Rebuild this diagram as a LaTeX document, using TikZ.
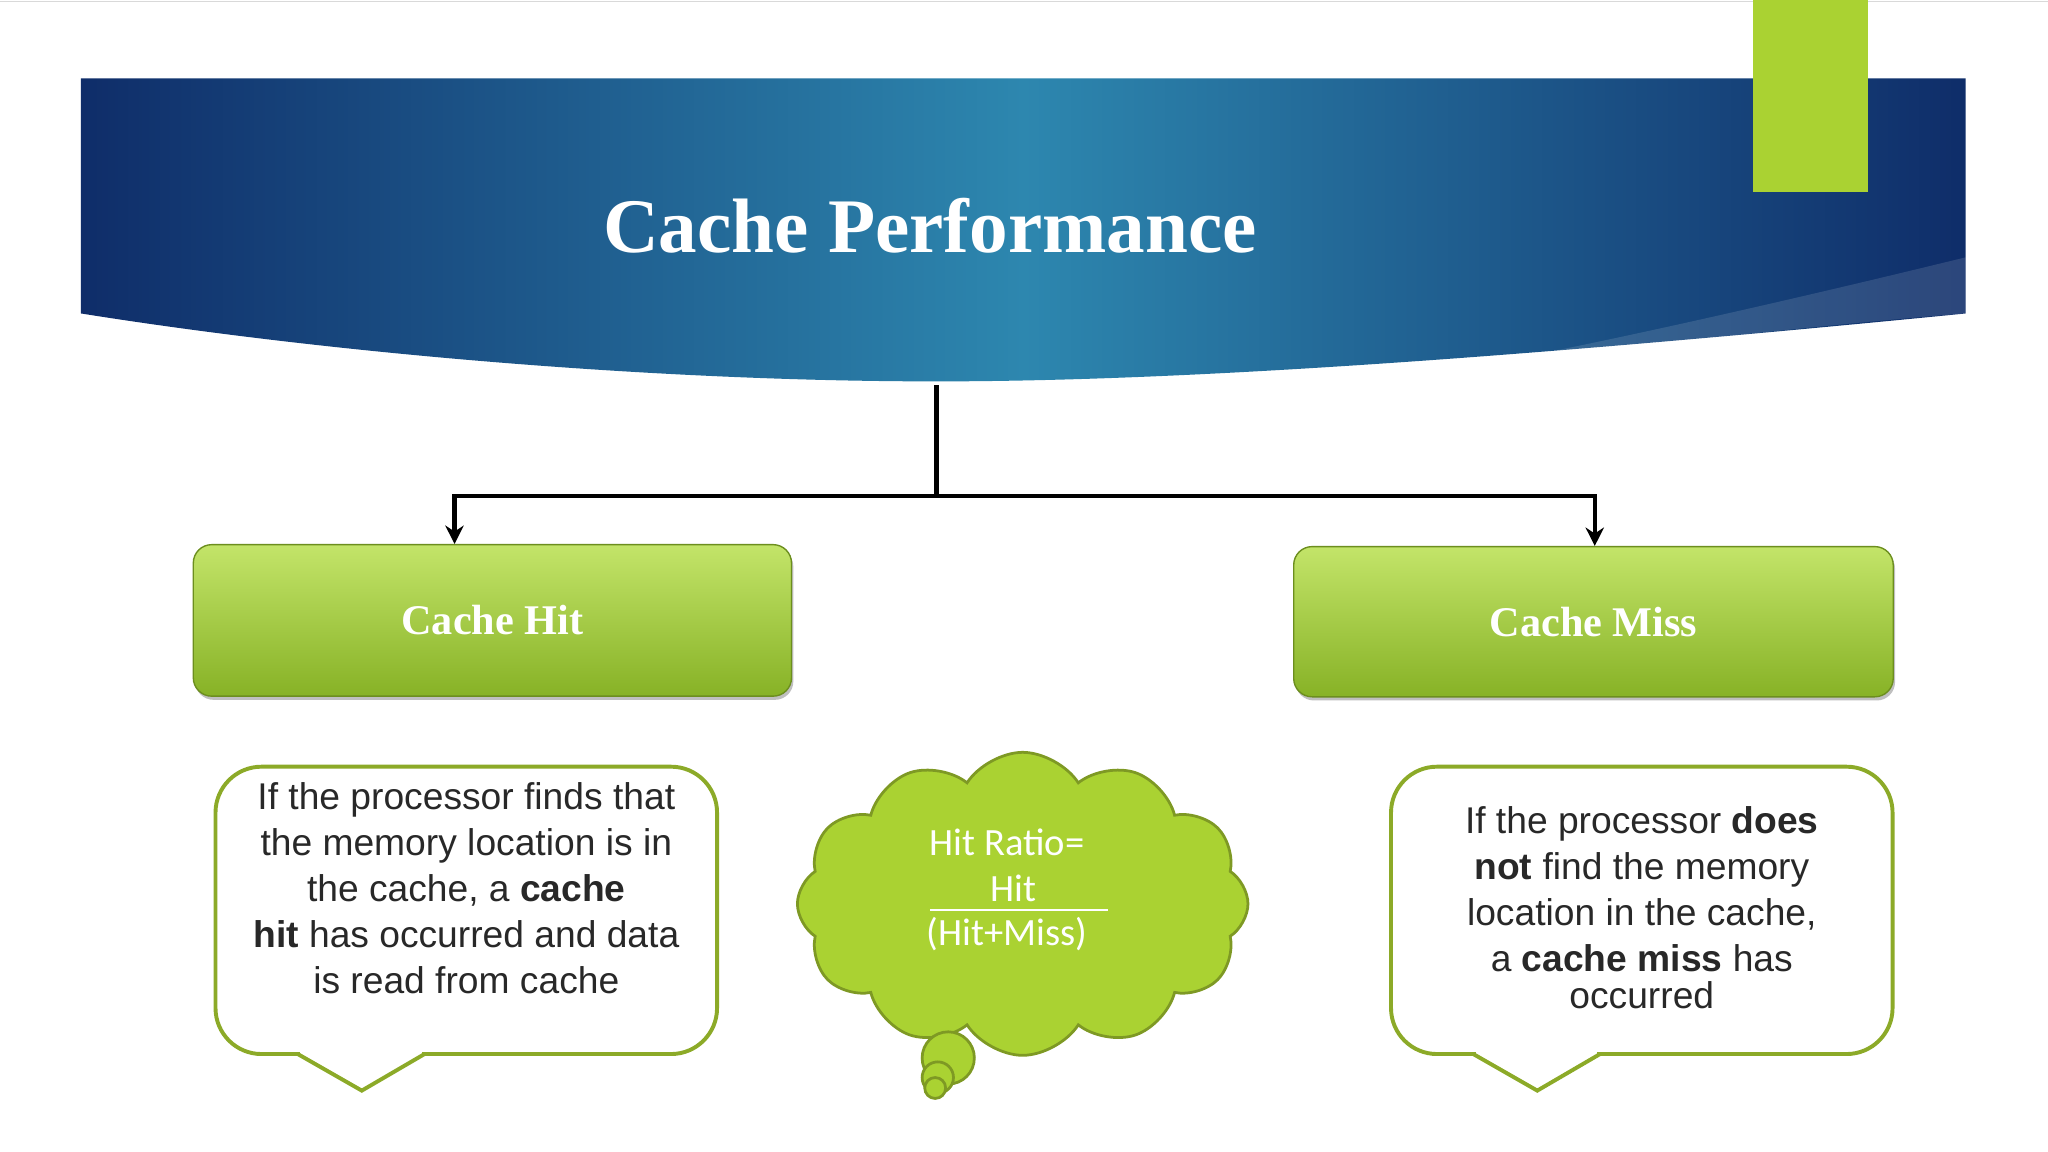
\documentclass[tikz,border=0pt]{standalone}
\usepackage{fontspec}
\setmainfont{Liberation Serif}
\newfontfamily\arialf{Liberation Sans}
\newfontfamily\calib{Carlito}
\usetikzlibrary{shapes.symbols,shadows,arrows.meta}
\definecolor{navy}{RGB}{15,45,105}
\definecolor{teal}{RGB}{45,135,175}
\definecolor{lime}{RGB}{170,210,50}
\definecolor{olive}{RGB}{140,170,40}
\definecolor{gtop}{RGB}{195,228,105}
\definecolor{gbot}{RGB}{135,178,38}
\definecolor{txt}{RGB}{40,40,40}
\tikzset{
 conn/.style={line width=0.9pt,black},
 gbox/.style={rounded corners=4pt,top color=gtop,bottom color=gbot,draw=gbot!80!black,line width=0.3pt,drop shadow={shadow xshift=0.4pt,shadow yshift=-0.8pt,opacity=0.5}},
 glabel/.style={text=white,font=\bfseries\fontsize{9.2}{10}\selectfont},
 callout/.style={draw=olive,line width=0.85pt,fill=white},
 ctext/.style={text=txt,font=\arialf\fontsize{8.1}{10}\selectfont,align=center}
}
\begin{document}
\begin{tikzpicture}[x=0.01cm,y=-0.01cm]
\useasboundingbox (0,0) rectangle (1568,882);
\fill[white] (0,0) rectangle (1568,882);
\draw[gray!30,line width=0.3pt] (0,1) -- (1568,1);
% banner
\shade[left color=navy,right color=navy,middle color=teal] (62,60) -- (1505,60) -- (1505,240) .. controls (1150,275) and (900,292) .. (717,292) .. controls (500,292) and (250,270) .. (62,240) -- cycle;
\fill[white,opacity=0.12] (1505,197) .. controls (1350,235) and (1200,268) .. (1130,280) .. controls (1250,265) and (1400,248) .. (1505,240) -- cycle;
\fill[lime] (1342,0) rectangle (1430,147);
\node[text=white,font=\bfseries\fontsize{16.8}{18}\selectfont] (title) at (712,173) {Cache Performance};
% boxes
\node[gbox,minimum width=458*0.01cm,minimum height=116*0.01cm] (hit) at (377,475) {};
\node[glabel] at (hit) {Cache Hit};
\node[gbox,minimum width=459*0.01cm,minimum height=115*0.01cm] (miss) at (1220,476) {};
\node[glabel] at (miss) {Cache Miss};
% connectors
\coordinate (top) at (717,295);
\coordinate (mid) at (717,380);
\draw[conn] (top) -- (mid);
\draw[conn,-{Stealth[length=4pt,width=4pt]}] (mid) -| (hit.north -| 348,0);
\draw[conn,-{Stealth[length=4pt,width=4pt]}] (mid) -| (miss.north -| 1221,0);
% callouts
\draw[callout,rounded corners=10pt] (165,587) rectangle (549,807);
\fill[white] (230,804) rectangle (323,810);
\draw[callout,line join=miter] (228,807) -- (277,835) -- (325,807);
\node[ctext] (lt) at (357,680) {If the processor finds that\\the memory location is in\\the cache, a \textbf{cache}\\\textbf{hit} has occurred and data\\is read from cache};
\draw[callout,rounded corners=10pt] (1065,587) rectangle (1449,807);
\fill[white] (1130,804) rectangle (1223,810);
\draw[callout,line join=miter] (1128,807) -- (1177,835) -- (1225,807);
\node[ctext] (rt) at (1257,695) {If the processor \textbf{does}\\\textbf{not} find the memory\\location in the cache,\\a \textbf{cache miss} has\\[-2pt]occurred};
% cloud
\node[cloud,cloud puffs=12,cloud puff arc=115,aspect=1.45,fill=lime,draw=olive!90!black,line width=0.6pt,minimum width=345*0.01cm,minimum height=232*0.01cm] (cl) at (783,692) {};
\draw[fill=lime,draw=olive!90!black,line width=0.6pt] (726,810) circle[radius=20*0.01cm];
\draw[fill=lime,draw=olive!90!black,line width=0.6pt] (718,825) circle[radius=12*0.01cm];
\draw[fill=lime,draw=olive!90!black,line width=0.6pt] (716,833) circle[radius=8*0.01cm];
\node[text=white,font=\calib\fontsize{8.4}{9}\selectfont] (hr) at (771,645) {Hit Ratio=};
\node[text=white,font=\calib\fontsize{8.4}{9}\selectfont] (hh) at (776,680) {Hit};
\node[text=white,font=\calib\fontsize{8.4}{9}\selectfont] (hm) at (771,715) {(Hit+Miss)};
\draw[white,line width=0.4pt] (712,697) -- (848,697);
\end{tikzpicture}
\end{document}
